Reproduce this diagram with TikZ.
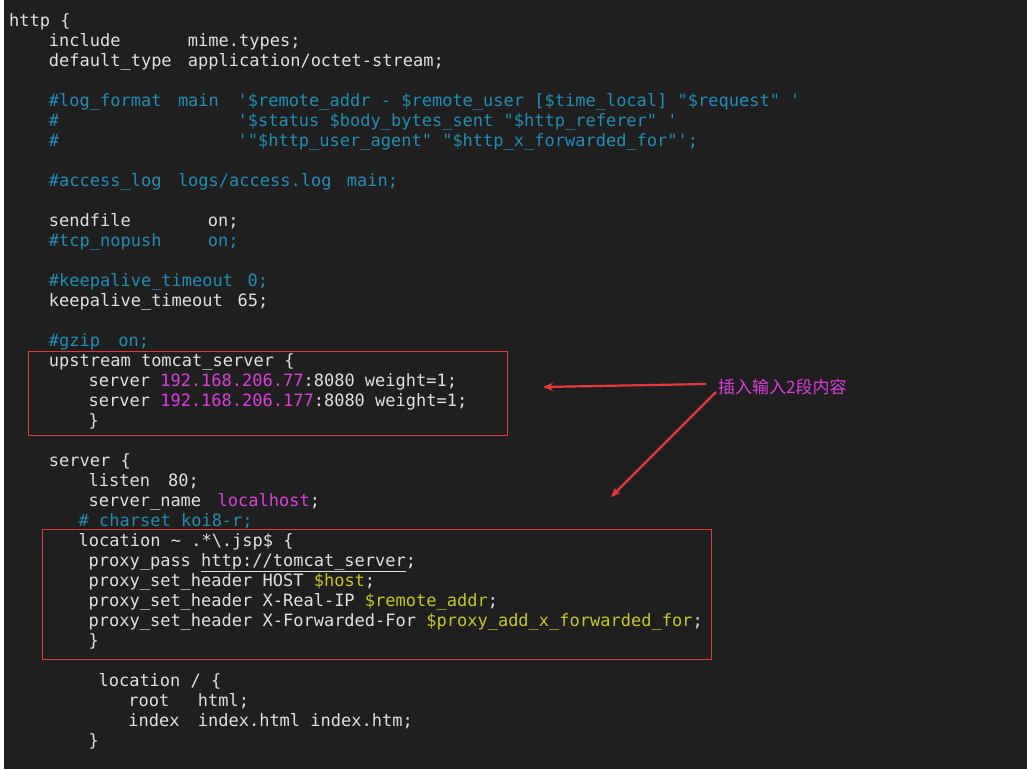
\documentclass[tikz,border=0pt]{standalone}
\usepackage{fontspec}
\newfontfamily\codefont{DejaVu Sans Mono}
\newfontfamily\cjkfont{Noto Sans CJK SC}
\definecolor{bg}{HTML}{1F1F1F}
\definecolor{fg}{HTML}{E0E0E0}
\definecolor{cm}{HTML}{1E8FB8}
\definecolor{mg}{HTML}{DD3FDD}
\definecolor{yl}{HTML}{C8C81E}
\definecolor{rd}{HTML}{E8393A}
\tikzset{code/.style={inner sep=0pt,anchor=base west,text=fg,font=\codefont\fontsize{17}{20}\selectfont},
redbox/.style={draw=rd,line width=1pt},
arr/.style={draw=rd,line width=2.2pt,-{Stealth[length=10pt,width=8pt]}}}
\usetikzlibrary{arrows.meta}
\newcommand\cl[3]{\node[code] (n#1x#2) at ({9+#2*9.93},{26+#1*20}) {#3};}
\begin{document}
\begin{tikzpicture}[x=1pt,y=-1pt]
\fill[white] (0,0) rectangle (1027,769);
\useasboundingbox (0,0) rectangle (1027,769);
\fill[bg] (4,0) rectangle (1027,769);
\cl{0}{0}{http \{}
\cl{1}{4}{include}\cl{1}{18}{mime.types;}
\cl{2}{4}{default\_type}\cl{2}{18}{application/octet-stream;}
\cl{4}{4}{\color{cm}\#log\_format}\cl{4}{17}{\color{cm}main}\cl{4}{23}{\color{cm}'\$remote\_addr - \$remote\_user [\$time\_local] "\$request" '}
\cl{5}{4}{\color{cm}\#}\cl{5}{23}{\color{cm}'\$status \$body\_bytes\_sent "\$http\_referer" '}
\cl{6}{4}{\color{cm}\#}\cl{6}{23}{\color{cm}'"\$http\_user\_agent" "\$http\_x\_forwarded\_for"';}
\cl{8}{4}{\color{cm}\#access\_log}\cl{8}{17}{\color{cm}logs/access.log}\cl{8}{34}{\color{cm}main;}
\cl{10}{4}{sendfile}\cl{10}{20}{on;}
\cl{11}{4}{\color{cm}\#tcp\_nopush}\cl{11}{20}{\color{cm}on;}
\cl{13}{4}{\color{cm}\#keepalive\_timeout}\cl{13}{24}{\color{cm}0;}
\cl{14}{4}{keepalive\_timeout}\cl{14}{23}{65;}
\cl{16}{4}{\color{cm}\#gzip}\cl{16}{11}{\color{cm}on;}
\cl{17}{4}{upstream tomcat\_server \{}
\cl{18}{8}{server \textcolor{mg}{192.168.206.77}:8080 weight=1;}
\cl{19}{8}{server \textcolor{mg}{192.168.206.177}:8080 weight=1;}
\cl{20}{8}{\}}
\cl{22}{4}{server \{}
\cl{23}{8}{listen}\cl{23}{16}{80;}
\cl{24}{8}{server\_name}\cl{24}{21}{\textcolor{mg}{localhost};}
\cl{25}{7}{\color{cm}\# charset koi8-r;}
\cl{26}{7}{location \textasciitilde{} .*\textbackslash.jsp\$ \{}
\cl{27}{8}{proxy\_pass \underline{http://tomcat\_server};}
\cl{28}{8}{proxy\_set\_header HOST \textcolor{yl}{\$host};}
\cl{29}{8}{proxy\_set\_header X-Real-IP \textcolor{yl}{\$remote\_addr};}
\cl{30}{8}{proxy\_set\_header X-Forwarded-For \textcolor{yl}{\$proxy\_add\_x\_forwarded\_for};}
\cl{31}{8}{\}}
\cl{33}{9}{location / \{}
\cl{34}{12}{root}\cl{34}{19}{html;}
\cl{35}{12}{index}\cl{35}{19}{index.html index.htm;}
\cl{36}{8}{\}}
\draw[redbox] (28,351) rectangle (507,435);
\draw[redbox] (42,529) rectangle (711,659);
\node[inner sep=0pt,anchor=west,text=mg,font=\cjkfont\fontsize{17}{19}\selectfont] (lbl) at (718,387) {插入输入2段内容};
\coordinate (t1) at (543,387);
\coordinate (t2) at (611,497);
\draw[arr] (lbl.west) ++(-12,-3) coordinate (s1) (s1) -- (t1);
\draw[arr] (lbl.west) ++(-2,5) coordinate (s2) (s2) -- (t2);
\end{tikzpicture}
\end{document}
